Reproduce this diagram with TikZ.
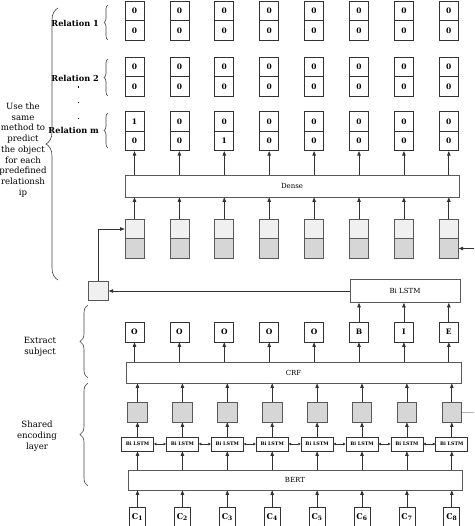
\documentclass[tikz,border=0pt]{standalone}
\usepackage{fontspec}
\setmainfont{DejaVu Serif}
\usetikzlibrary{arrows.meta,decorations.pathreplacing}
\begin{document}
\begin{tikzpicture}[x=1pt,y=-1pt,
  arr/.style={-{Triangle[length=4.5pt,width=3.5pt]},line width=0.7pt,draw=black!80},
  dbl/.style={{Triangle[length=2.5pt,width=2.5pt]}-{Triangle[length=2.5pt,width=2.5pt]},line width=0.6pt,draw=black!80},
  bx/.style={draw=black!80,line width=0.7pt,inner sep=0pt},
  half/.style={bx,minimum width=19pt,minimum height=19.5pt,font=\fontsize{7.5}{8}\selectfont\bfseries},
  cellt/.style={bx,draw=black!65,fill=gray!12,minimum width=19pt,minimum height=19.5pt},
  cellb/.style={bx,draw=black!65,fill=gray!32,minimum width=19pt,minimum height=19.5pt},
  wide/.style={bx,draw=black!65,font=\fontsize{7}{8}\selectfont},
  obox/.style={bx,minimum width=19pt,minimum height=20pt,font=\fontsize{7.5}{8}\selectfont\bfseries},
  gbox/.style={bx,draw=black!65,fill=gray!32,minimum width=19.5pt,minimum height=20pt},
  sbox/.style={bx,minimum width=32pt,minimum height=14pt,font=\fontsize{4.8}{5}\selectfont\bfseries},
  cbox/.style={bx,minimum width=16pt,minimum height=20pt,font=\fontsize{8}{9}\selectfont\bfseries},
  lab/.style={inner sep=0pt,font=\fontsize{8.6}{10.75}\selectfont},
  rlab/.style={inner sep=0pt,font=\fontsize{8.2}{10.75}\selectfont\bfseries},
  brc/.style={draw=black!75,line width=0.6pt,decorate,decoration={brace,amplitude=#1}}
]
\useasboundingbox (0,0) rectangle (474,526);

% relation rows
\foreach \i/\a/\b in {1/1/0,2/0/0,3/0/1,4/0/0,5/0/0,6/0/0,7/0/0,8/0/0}{
  \pgfmathsetmacro{\xu}{134.5+44.9*(\i-1)}
  \node[half] (ra\i) at (\xu,11) {0};
  \node[half] (rb\i) at (\xu,30.5) {0};
  \node[half] (rc\i) at (\xu,67) {0};
  \node[half] (rd\i) at (\xu,86.5) {0};
  \node[half] (re\i) at (\xu,121.5) {\a};
  \node[half] (rf\i) at (\xu,141) {\b};
}

% dense
\node[wide,minimum width=334pt,minimum height=22pt] (dense) at (292,186) {Dense};
\foreach \i in {1,...,8}{
  \pgfmathsetmacro{\xu}{134.5+44.9*(\i-1)}
  \draw[arr] (dense.north -| rf\i.south) -- (rf\i.south);
  \node[cellt] (ct\i) at (\xu,229) {};
  \node[cellb] (cb\i) at (\xu,248.5) {};
  \draw[arr] (ct\i.north) -- (ct\i.north |- dense.south);
}

% subject vector
\node[bx,draw=black!65,fill=gray!12,minimum size=19.5pt] (sq) at (98.5,291) {};
\draw[arr] (sq.north) |- (ct1.west);
\node[wide,minimum width=110pt,minimum height=23pt] (bl) at (405,291) {Bi LSTM};
\draw[arr] (bl.west) -- (sq.east);
\coordinate (rin) at (474,248.5);
\draw[arr] (rin) -- (cb8.east);

% subject tags
\foreach \i/\t in {1/O,2/O,3/O,4/O,5/O,6/B,7/I,8/E}{
  \pgfmathsetmacro{\xu}{134.5+44.9*(\i-1)}
  \node[obox] (o\i) at (\xu,332) {\t};
}
\foreach \i in {6,7,8}{
  \draw[arr] (o\i.north) -- (o\i.north |- bl.south);
}
\node[wide,minimum width=335pt,minimum height=21pt] (crf) at (293.5,372.5) {CRF};
\foreach \i in {1,...,8}{
  \draw[arr] (o\i.south |- crf.north) -- (o\i.south);
}

% shared encoder
\node[wide,minimum width=334pt,minimum height=20pt] (bert) at (295,480) {BERT};
\foreach \i in {1,...,8}{
  \pgfmathsetmacro{\xl}{137.5+44.9*(\i-1)}
  \node[gbox] (g\i) at (\xl,412) {};
  \draw[arr] (g\i.north) -- (g\i.north |- crf.south);
  \node[sbox] (s\i) at (\xl,444) {Bi LSTM};
  \draw[arr] (s\i.north) -- (g\i.south);
  \draw[arr] (s\i.south |- bert.north) -- (s\i.south);
  \node[cbox] (c\i) at (\xl,517) {C\textsubscript{\i}};
  \draw[arr] (c\i.north) -- (c\i.north |- bert.south);
}
\foreach \i [evaluate=\i as \j using int(\i+1)] in {1,...,7}{
  \draw[dbl] (s\i.east) -- (s\j.west);
}
\coordinate (gout) at (474,412);
\draw[draw=gray!60,line width=0.6pt] (g8.east) -- (gout);

% left annotations
\node[rlab,anchor=east] (l1) at (99,23) {Relation 1};
\node[rlab,anchor=east] (l2) at (99,78) {Relation 2};
\node[rlab,anchor=east] (lm) at (99,130) {Relation m};
\fill (77.5,86.5) rectangle (79,88);
\fill (77.5,102) rectangle (79,103.5);
\fill (77.5,118) rectangle (79,119.5);
\draw[brc=4pt] (108,40) -- (108,5);
\draw[brc=4pt] (108,96) -- (108,59);
\draw[brc=4pt] (108,148) -- (108,113);
\draw[brc=12pt] (58,280) -- (58,8);
\node[lab,align=center] (use) at (23,150) {Use the\\same\\method to\\predict\\the object\\for each\\predefined\\relationsh\\ip};
\draw[brc=8pt] (88,378) -- (88,305);
\node[lab,align=center] (ext) at (40,346.5) {Extract\\subject};
\draw[brc=8pt] (88,486) -- (88,383);
\node[lab,align=center] (sh) at (37,436) {Shared\\encoding\\layer};
\end{tikzpicture}
\end{document}
